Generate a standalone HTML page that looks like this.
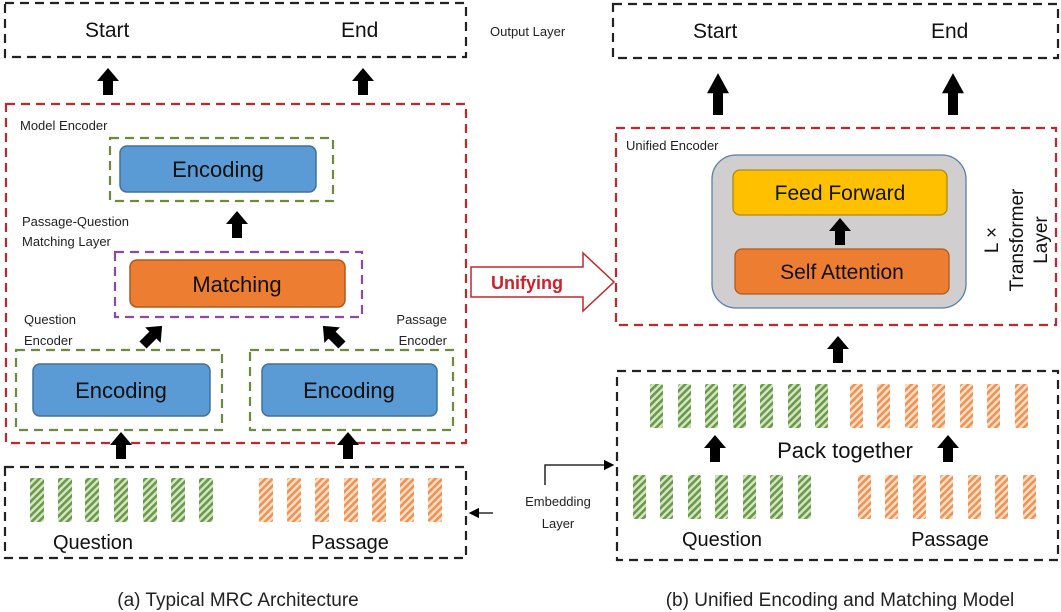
<!DOCTYPE html>
<html><head><meta charset="utf-8"><style>
html,body{margin:0;padding:0;background:#fff}
svg{display:block;font-family:"Liberation Sans","DejaVu Sans",sans-serif}
</style></head><body>
<svg width="1061" height="612" viewBox="0 0 1061 612" xmlns="http://www.w3.org/2000/svg">
<defs>
<pattern id="hg" width="5" height="5" patternUnits="userSpaceOnUse" patternTransform="rotate(45)">
<rect width="5" height="5" fill="#d6e6c8"/><rect width="2.6" height="5" fill="#6a9a48"/></pattern>
<pattern id="ho" width="5" height="5" patternUnits="userSpaceOnUse" patternTransform="rotate(45)">
<rect width="5" height="5" fill="#fbe0cc"/><rect width="2.6" height="5" fill="#ef9252"/></pattern>
<marker id="ah" markerWidth="8" markerHeight="8" refX="7" refY="4" orient="auto"><path d="M0,0 L8,4 L0,8 z" fill="#000"/></marker>
<g id="up"><path d="M-5,0 L5,0 L5,-14 L11,-14 L0,-27 L-11,-14 L-5,-14 z" fill="#000"/></g>
</defs>
<g fill="none" stroke-width="2.2" stroke-dasharray="9,6">
<rect x="5" y="3" width="461" height="54" stroke="#222"/>
<rect x="613" y="4" width="445" height="54" stroke="#222"/>
<rect x="6" y="104" width="460" height="339" stroke="#c0282d"/>
<rect x="616" y="128" width="440" height="197" stroke="#c0282d"/>
<rect x="110" y="138" width="223" height="63" stroke="#6e8b3d"/>
<rect x="115" y="252" width="247" height="65" stroke="#8a4aa8"/>
<rect x="16" y="350" width="206" height="80" stroke="#6e8b3d"/>
<rect x="250" y="350" width="203" height="80" stroke="#6e8b3d"/>
<rect x="5" y="467" width="461" height="91" stroke="#222"/>
<rect x="617" y="371" width="441" height="189" stroke="#222"/>
</g>
<g font-size="21" fill="#111">
<text x="85" y="37">Start</text><text x="341" y="37">End</text>
<text x="693" y="38">Start</text><text x="931" y="38">End</text>
</g>
<text x="490" y="36" font-size="13" fill="#222">Output Layer</text>
<use href="#up" x="108" y="95"/><use href="#up" x="363" y="95"/>
<g transform="translate(718,115) scale(1,1.55)"><use href="#up"/></g>
<g transform="translate(953,115) scale(1,1.55)"><use href="#up"/></g>
<text x="20" y="130" font-size="13" fill="#222">Model Encoder</text>
<rect x="120" y="146" width="196" height="46" rx="7" fill="#5b9bd5" stroke="#41719c" stroke-width="1.5"/>
<text x="218" y="177" font-size="22" text-anchor="middle" fill="#111">Encoding</text>
<use href="#up" x="237" y="238"/>
<text x="22" y="226" font-size="13" fill="#222">Passage-Question</text>
<text x="22" y="246" font-size="13" fill="#222">Matching Layer</text>
<rect x="130" y="260" width="215" height="47" rx="7" fill="#ed7d31" stroke="#ae5a21" stroke-width="1.5"/>
<text x="237" y="292" font-size="22" text-anchor="middle" fill="#111">Matching</text>
<g transform="translate(143,345) rotate(45)"><use href="#up"/></g>
<g transform="translate(342,345) rotate(-45)"><use href="#up"/></g>
<text x="24" y="324" font-size="13" fill="#222">Question</text><text x="24" y="345" font-size="13" fill="#222">Encoder</text>
<text x="447" y="324" font-size="13" fill="#222" text-anchor="end">Passage</text><text x="447" y="345" font-size="13" fill="#222" text-anchor="end">Encoder</text>
<rect x="33" y="364" width="177" height="52" rx="7" fill="#5b9bd5" stroke="#41719c" stroke-width="1.5"/>
<text x="121" y="398" font-size="22" text-anchor="middle" fill="#111">Encoding</text>
<rect x="262" y="364" width="175" height="52" rx="7" fill="#5b9bd5" stroke="#41719c" stroke-width="1.5"/>
<text x="349" y="398" font-size="22" text-anchor="middle" fill="#111">Encoding</text>
<use href="#up" x="121" y="459"/><use href="#up" x="348" y="459"/>
<g>
<rect x="30" y="478" width="14" height="44" rx="2" fill="url(#hg)"/><rect x="58" y="478" width="14" height="44" rx="2" fill="url(#hg)"/><rect x="85" y="478" width="14" height="44" rx="2" fill="url(#hg)"/><rect x="114" y="478" width="14" height="44" rx="2" fill="url(#hg)"/><rect x="143" y="478" width="14" height="44" rx="2" fill="url(#hg)"/><rect x="171" y="478" width="14" height="44" rx="2" fill="url(#hg)"/><rect x="199" y="478" width="14" height="44" rx="2" fill="url(#hg)"/>
<rect x="259" y="478" width="14" height="44" rx="2" fill="url(#ho)"/><rect x="287" y="478" width="14" height="44" rx="2" fill="url(#ho)"/><rect x="315" y="478" width="14" height="44" rx="2" fill="url(#ho)"/><rect x="344" y="478" width="14" height="44" rx="2" fill="url(#ho)"/><rect x="372" y="478" width="14" height="44" rx="2" fill="url(#ho)"/><rect x="400" y="478" width="14" height="44" rx="2" fill="url(#ho)"/><rect x="428" y="478" width="14" height="44" rx="2" fill="url(#ho)"/>
</g>
<text x="93" y="549" font-size="20" text-anchor="middle" fill="#111">Question</text>
<text x="350" y="549" font-size="20" text-anchor="middle" fill="#111">Passage</text>
<text x="238" y="606" font-size="19" text-anchor="middle" fill="#222">(a) Typical MRC Architecture</text>
<path d="M471,267 L583,267 L583,253 L614,282 L583,311 L583,297 L471,297 z" fill="#fff" stroke="#c0282d" stroke-width="1.5"/>
<text x="527" y="289" font-size="18" font-weight="bold" text-anchor="middle" fill="#d0202a">Unifying</text>
<text x="558" y="506" font-size="13" text-anchor="middle" fill="#222">Embedding</text>
<text x="558" y="528" font-size="13" text-anchor="middle" fill="#222">Layer</text>
<line x1="493" y1="513" x2="470" y2="513" stroke="#000" stroke-width="1.3" marker-end="url(#ah)"/>
<path d="M545,485 L545,465 L613,465" fill="none" stroke="#000" stroke-width="1.3" marker-end="url(#ah)"/>
<text x="626" y="150" font-size="13" fill="#222">Unified Encoder</text>
<rect x="712" y="155" width="254" height="153" rx="24" fill="#d0cece" stroke="#5a7fa8" stroke-width="1.3"/>
<rect x="733" y="170" width="214" height="45" rx="7" fill="#ffc000" stroke="#b08a10" stroke-width="1.3"/>
<text x="840" y="200" font-size="21" text-anchor="middle" fill="#111">Feed Forward</text>
<use href="#up" x="840" y="245"/>
<rect x="735" y="249" width="214" height="45" rx="7" fill="#ed7d31" stroke="#ae5a21" stroke-width="1.3"/>
<text x="842" y="279" font-size="21" text-anchor="middle" fill="#111">Self Attention</text>
<g font-size="19" fill="#111" text-anchor="middle">
<text transform="translate(998,240) rotate(-90)">L ×</text>
<text transform="translate(1023,240) rotate(-90)">Transformer</text>
<text transform="translate(1047,240) rotate(-90)">Layer</text>
</g>
<use href="#up" x="838" y="363"/>
<g>
<rect x="650" y="384" width="13" height="44" rx="2" fill="url(#hg)"/><rect x="678" y="384" width="13" height="44" rx="2" fill="url(#hg)"/><rect x="705" y="384" width="13" height="44" rx="2" fill="url(#hg)"/><rect x="733" y="384" width="13" height="44" rx="2" fill="url(#hg)"/><rect x="760" y="384" width="13" height="44" rx="2" fill="url(#hg)"/><rect x="788" y="384" width="13" height="44" rx="2" fill="url(#hg)"/><rect x="815" y="384" width="13" height="44" rx="2" fill="url(#hg)"/>
<rect x="850" y="384" width="13" height="44" rx="2" fill="url(#ho)"/><rect x="877" y="384" width="13" height="44" rx="2" fill="url(#ho)"/><rect x="905" y="384" width="13" height="44" rx="2" fill="url(#ho)"/><rect x="932" y="384" width="13" height="44" rx="2" fill="url(#ho)"/><rect x="960" y="384" width="13" height="44" rx="2" fill="url(#ho)"/><rect x="987" y="384" width="13" height="44" rx="2" fill="url(#ho)"/><rect x="1015" y="384" width="13" height="44" rx="2" fill="url(#ho)"/>
<rect x="633" y="475" width="13" height="44" rx="2" fill="url(#hg)"/><rect x="660" y="475" width="13" height="44" rx="2" fill="url(#hg)"/><rect x="688" y="475" width="13" height="44" rx="2" fill="url(#hg)"/><rect x="715" y="475" width="13" height="44" rx="2" fill="url(#hg)"/><rect x="743" y="475" width="13" height="44" rx="2" fill="url(#hg)"/><rect x="770" y="475" width="13" height="44" rx="2" fill="url(#hg)"/><rect x="798" y="475" width="13" height="44" rx="2" fill="url(#hg)"/>
<rect x="858" y="475" width="13" height="44" rx="2" fill="url(#ho)"/><rect x="885" y="475" width="13" height="44" rx="2" fill="url(#ho)"/><rect x="913" y="475" width="13" height="44" rx="2" fill="url(#ho)"/><rect x="940" y="475" width="13" height="44" rx="2" fill="url(#ho)"/><rect x="968" y="475" width="13" height="44" rx="2" fill="url(#ho)"/><rect x="995" y="475" width="13" height="44" rx="2" fill="url(#ho)"/><rect x="1023" y="475" width="13" height="44" rx="2" fill="url(#ho)"/>
</g>
<use href="#up" x="715" y="462"/><use href="#up" x="948" y="462"/>
<text x="845" y="458" font-size="22" text-anchor="middle" fill="#111">Pack together</text>
<text x="722" y="546" font-size="20" text-anchor="middle" fill="#111">Question</text>
<text x="950" y="546" font-size="20" text-anchor="middle" fill="#111">Passage</text>
<text x="840" y="606" font-size="19" text-anchor="middle" fill="#222">(b) Unified Encoding and Matching Model</text>
</svg>
</body></html>
